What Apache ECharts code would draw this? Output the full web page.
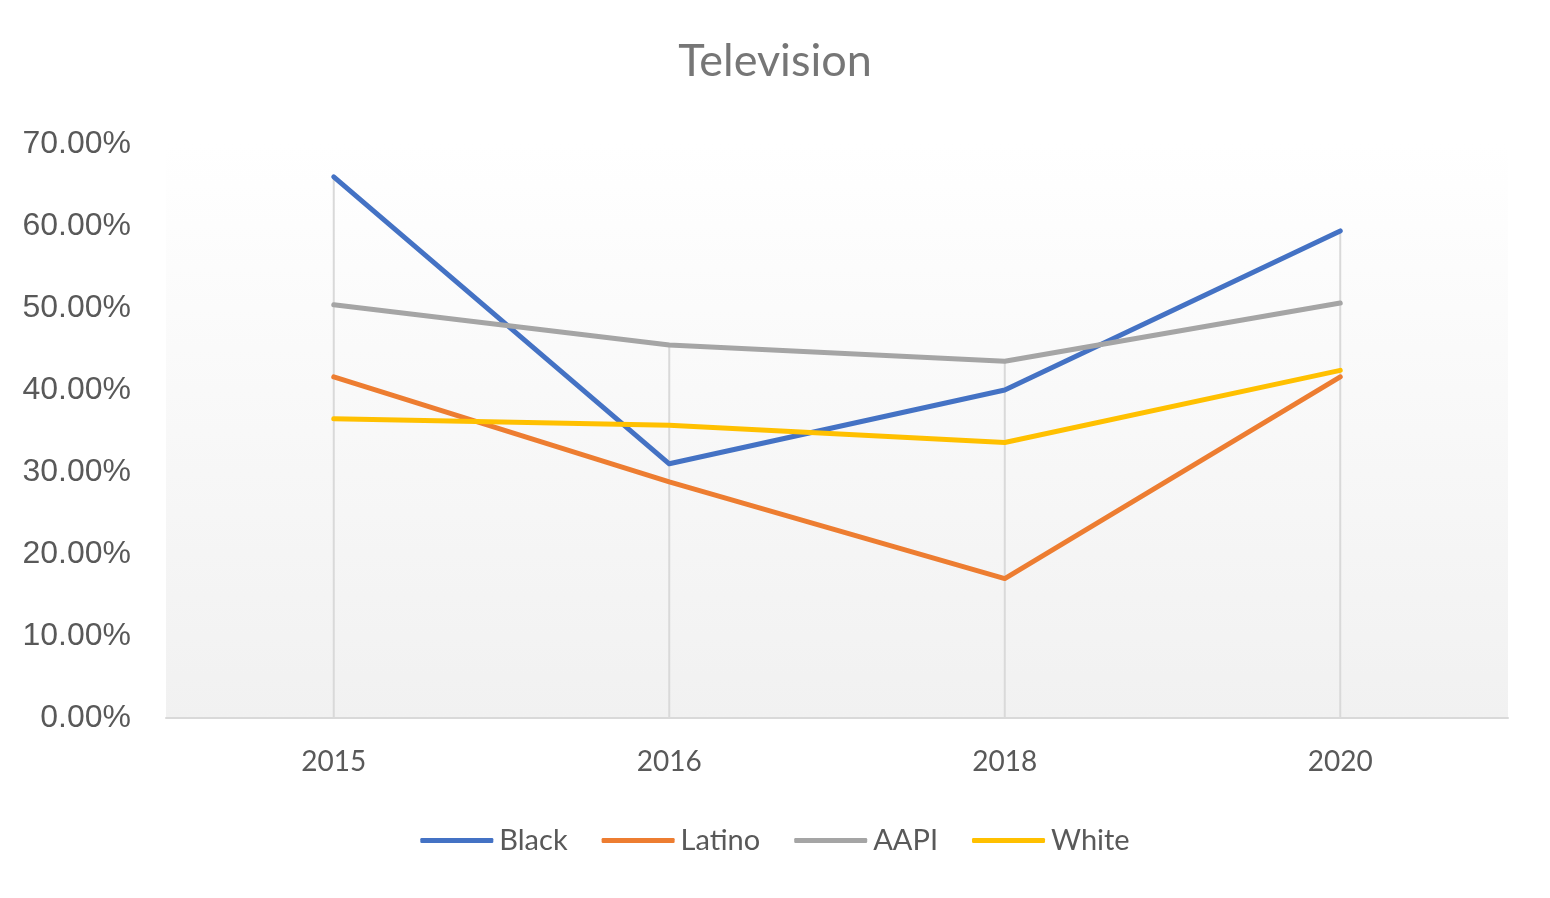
<!DOCTYPE html>
<html>
<head>
<meta charset="utf-8">
<script src="https://cdn.jsdelivr.net/npm/echarts@6/dist/echarts.min.js"></script>
<style>
html, body { margin: 0; padding: 0; background: #fff; }
#chart { width: 1550px; height: 898px; }
</style>
</head>
<body>
<div id="chart"></div>
<script>
// data
const years = ['2015', '2016', '2018', '2020']
const black = [66.0, 31.0, 40.0, 59.4]
const latino = [41.6, 28.8, 17.0, 41.6]
const aapi = [50.4, 45.5, 43.5, 50.6]
const white = [36.5, 35.7, 33.6, 42.4]
const yTicks = { min: 0, max: 70, interval: 10 }

const seriesList = [
  { name: 'Black', data: black, color: '#4472C4' },
  { name: 'Latino', data: latino, color: '#ED7D31' },
  { name: 'AAPI', data: aapi, color: '#A5A5A5' },
  { name: 'White', data: white, color: '#FFC000' }
]

// drop lines go from the highest point of each year down to the axis
const dropTop = years.map((y, i) => Math.max(...seriesList.map(s => s.data[i])))

const chart = echarts.init(document.getElementById('chart'))

chart.setOption({
  animation: false,
  title: {
    text: 'Television',
    left: 'center',
    top: 34,
    textStyle: {
      color: '#767676',
      fontFamily: 'Lato',
      fontWeight: 'normal',
      fontSize: 45
    }
  },
  legend: {
    data: seriesList.map(s => s.name),
    bottom: 38,
    left: 'center',
    itemWidth: 73,
    itemHeight: 5,
    itemGap: 34,
    icon: 'roundRect',
    textStyle: {
      color: '#595959',
      fontFamily: 'Lato',
      fontSize: 29,
      padding: [0, 0, 0, 1]
    }
  },
  grid: {
    left: 166,
    right: 42,
    top: 144,
    bottom: 180,
    show: true,
    borderWidth: 0,
    backgroundColor: new echarts.graphic.LinearGradient(0, 0, 0, 1, [
      { offset: 0, color: '#ffffff' },
      { offset: 1, color: '#f1f1f1' }
    ])
  },
  xAxis: {
    type: 'category',
    data: years,
    axisLine: { lineStyle: { color: '#d9d9d9', width: 2 } },
    axisTick: { show: false },
    splitLine: { show: false },
    axisLabel: {
      color: '#595959',
      fontFamily: 'Lato',
      fontSize: 28,
      margin: 30
    }
  },
  yAxis: {
    type: 'value',
    min: yTicks.min,
    max: yTicks.max,
    interval: yTicks.interval,
    axisLine: { show: false },
    axisTick: { show: false },
    splitLine: { show: false },
    axisLabel: {
      color: '#595959',
      fontFamily: 'Liberation Sans',
      fontSize: 32,
      margin: 35,
      formatter: v => v.toFixed(2) + '%'
    }
  },
  series: [
    {
      type: 'bar',
      name: 'drop',
      data: dropTop,
      barWidth: 2,
      silent: true,
      z: 1,
      itemStyle: { color: '#d9d9d9' }
    }
  ].concat(seriesList.map(s => ({
    type: 'line',
    name: s.name,
    data: s.data,
    symbol: 'none',
    z: 3,
    color: s.color,
    lineStyle: { color: s.color, width: 5, cap: 'round', join: 'round' }
  })))
})
</script>
</body>
</html>
